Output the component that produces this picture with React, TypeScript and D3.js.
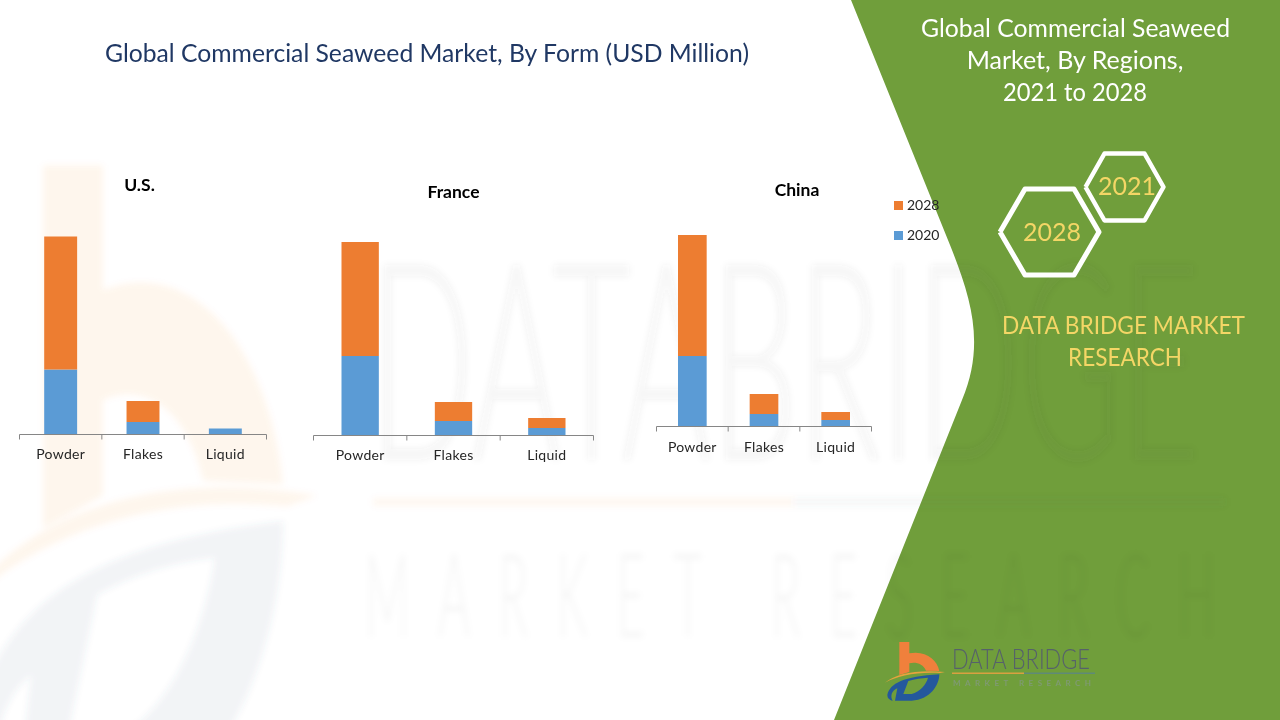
import { line, scaleBand, scaleLinear, stack } from "d3";

const categories = ["Powder", "Flakes", "Liquid"];
const seriesNames = ["2020", "2028"];
const seriesColors = ["#5b9bd5", "#ed7d31"];

const us2020 = [65, 12.5, 6];
const us2028 = [133, 21, 0];
const france2020 = [79.5, 14.5, 7.5];
const france2028 = [114, 19, 10];
const china2020 = [70.5, 12.5, 6.5];
const china2028 = [121, 20, 8];

const panels = [
  { name: "U.S.", v2020: us2020, v2028: us2028, x0: 19.5, x1: 266.5, axisY: 434.5, titleX: 139.5, titleY: 191, labelY: 459 },
  { name: "France", v2020: france2020, v2028: france2028, x0: 313.5, x1: 593.5, axisY: 435.5, titleX: 453.5, titleY: 198, labelY: 460 },
  { name: "China", v2020: china2020, v2028: china2028, x0: 656.5, x1: 871.5, axisY: 426.5, titleX: 797, titleY: 196, labelY: 452 },
];

const font = "Lato, 'Open Sans', sans-serif";
const green = "#709e3b";
const yellow = "#f4d666";

const logoOrange =
  "M178,66 H208 V100 C255,90 292,118 298,153 L258,152 C250,132 228,125 208,130 V156 L178,165 Z";
const logoSwoosh = "M135,188 C165,162 230,148 315,156 L300,159 C230,155 170,168 135,188 Z";
const logoBlue =
  "M142,225 C150,190 190,170 298,163 C298,195 270,240 215,242 H165 L172,205 C155,212 150,228 158,243 C148,240 142,235 142,225 Z M205,183 L190,222 H215 C240,215 258,195 264,173 C245,174 225,177 205,183 Z";

function hexPoints(cx: number, cy: number, rx: number, inset: number, ry: number): [number, number][] {
  return [
    [cx - rx, cy],
    [cx - rx + inset, cy - ry],
    [cx + rx - inset, cy - ry],
    [cx + rx, cy],
    [cx + rx - inset, cy + ry],
    [cx - rx + inset, cy + ry],
    [cx - rx, cy],
  ];
}

function Panel({ panel }: { panel: (typeof panels)[number] }) {
  const x = scaleBand()
    .domain(categories)
    .range([panel.x0, panel.x1])
    .paddingInner(0.6)
    .paddingOuter(0.3);
  const y = scaleLinear().domain([0, 200]).range([panel.axisY, panel.axisY - 200]);
  const rows = categories.map((category, index) => ({
    category,
    "2020": panel.v2020[index],
    "2028": panel.v2028[index],
  }));
  const layers = stack<any>().keys(seriesNames)(rows);
  const step = x.step();

  return (
    <g>
      <text x={panel.titleX} y={panel.titleY} textAnchor="middle" fontSize={17.5} fontWeight={700} fill="#000">
        {panel.name}
      </text>
      {layers.map((layer, seriesIndex) =>
        layer.map((d) =>
          d[1] > d[0] ? (
            <rect
              key={`${seriesIndex}-${d.data.category}`}
              x={x(d.data.category)}
              y={y(d[1])}
              width={x.bandwidth()}
              height={y(d[0]) - y(d[1])}
              fill={seriesColors[seriesIndex]}
            />
          ) : null,
        ),
      )}
      <line x1={panel.x0} x2={panel.x1} y1={panel.axisY} y2={panel.axisY} stroke="#868686" strokeWidth={1} />
      {[0, 1, 2, 3].map((i) => (
        <line
          key={i}
          x1={panel.x0 + i * step}
          x2={panel.x0 + i * step}
          y1={panel.axisY}
          y2={panel.axisY + 5}
          stroke="#868686"
          strokeWidth={1}
        />
      ))}
      {categories.map((category) => (
        <text
          key={category}
          x={(x(category) ?? 0) + x.bandwidth() / 2}
          y={panel.labelY}
          textAnchor="middle"
          fontSize={14}
          letterSpacing={0.3}
          fill="#262626"
        >
          {category}
        </text>
      ))}
    </g>
  );
}

export default function App() {
  const hexLine = line();

  return (
    <svg
      width={1280}
      height={720}
      viewBox="0 0 1280 720"
      fontFamily={font}
      style={{ position: "absolute", left: 0, top: 0, background: "#fff" }}
    >
      <defs>
        <filter id="soft" x="-10%" y="-10%" width="120%" height="120%">
          <feGaussianBlur stdDeviation="3" />
        </filter>
      </defs>

      <path d="M851,0 L950,245 C972,300 985,345 962,400 L834,720 L1280,720 L1280,0 Z" fill={green} />

      {/* faint watermark behind everything */}
      <g filter="url(#soft)">
        <g transform="translate(-313,-77) scale(2,3.67)" opacity={0.07}>
          <path d={logoOrange} fill="#ed7d31" />
          <path d={logoSwoosh} fill="#ed7d31" />
          <path d={logoBlue} fill="#44607f" fillRule="evenodd" />
        </g>
        <text
          x={370}
          y={460}
          fontSize={276}
          fontWeight={300}
          fill="#404040"
          opacity={0.05}
          textLength={830}
          lengthAdjust="spacingAndGlyphs"
        >
          DATABRIDGE
        </text>
        <rect x={373} y={498} width={420} height={8} fill="#ed7d31" opacity={0.06} />
        <rect x={793} y={498} width={432} height={8} fill="#44607f" opacity={0.05} />
        <g transform="scale(0.42,1)">
          <text
            x={365 / 0.42}
            y={637}
            fontSize={116}
            fontWeight={300}
            fill="#404040"
            opacity={0.04}
            textLength={850 / 0.42}
            lengthAdjust="spacing"
          >
            MARKET RESEARCH
          </text>
        </g>
      </g>

      <text x={105} y={62} fontSize={25.5} fill="#203864" textLength={644} lengthAdjust="spacingAndGlyphs">
        Global Commercial Seaweed Market, By Form (USD Million)
      </text>

      {panels.map((panel) => (
        <Panel key={panel.name} panel={panel} />
      ))}

      {/* legend */}
      {["2028", "2020"].map((name, i) => (
        <g key={name}>
          <rect x={894} y={201 + i * 30} width={9} height={9} fill={seriesColors[seriesNames.indexOf(name)]} />
          <text x={907} y={210 + i * 30} fontSize={14} fill="#262626">
            {name}
          </text>
        </g>
      ))}

      {/* right hand panel */}
      <g fontSize={25} fill="#fff" textAnchor="middle">
        <text x={1075.5} y={37} textLength={309} lengthAdjust="spacingAndGlyphs">
          Global Commercial Seaweed
        </text>
        <text x={1075} y={69}>Market, By Regions,</text>
        <text x={1075} y={101} textLength={144} lengthAdjust="spacingAndGlyphs">
          2021 to 2028
        </text>
      </g>

      <path d={hexLine(hexPoints(1049.5, 232, 49.5, 25, 43)) ?? ""} fill="none" stroke="#fff" strokeWidth={5} strokeLinejoin="round" />
      <path d={hexLine(hexPoints(1124.5, 187, 39, 19, 33.5)) ?? ""} fill="none" stroke="#fff" strokeWidth={4.5} strokeLinejoin="round" />
      <text x={1052} y={241} textAnchor="middle" fontSize={25} fill={yellow}>2028</text>
      <text x={1127} y={195} textAnchor="middle" fontSize={25} fill={yellow}>2021</text>

      <g fontSize={25} fill={yellow} textAnchor="middle">
        <text x={1123.5} y={334} textLength={243} lengthAdjust="spacingAndGlyphs">
          DATA BRIDGE MARKET
        </text>
        <text x={1125} y={366} textLength={114} lengthAdjust="spacingAndGlyphs">
          RESEARCH
        </text>
      </g>

      {/* logo */}
      <g transform="translate(840,620) scale(0.3333)">
        <path d={logoOrange} fill="#f0803c" />
        <path d={logoSwoosh} fill="#e8a33d" />
        <path d={logoBlue} fill="#24589c" fillRule="evenodd" />
      </g>
      <text x={952} y={669} fontSize={27} fontWeight={300} fill="#56616b" textLength={138} lengthAdjust="spacingAndGlyphs">
        DATA BRIDGE
      </text>
      <rect x={952} y={672.5} width={72} height={1.5} fill="#d9a040" />
      <rect x={1024} y={672.5} width={71} height={1.5} fill="#5f8a78" />
      <text x={953} y={686} fontSize={8} fontWeight={700} fill="#7f9a72" textLength={138} lengthAdjust="spacing">
        MARKET RESEARCH
      </text>
    </svg>
  );
}
